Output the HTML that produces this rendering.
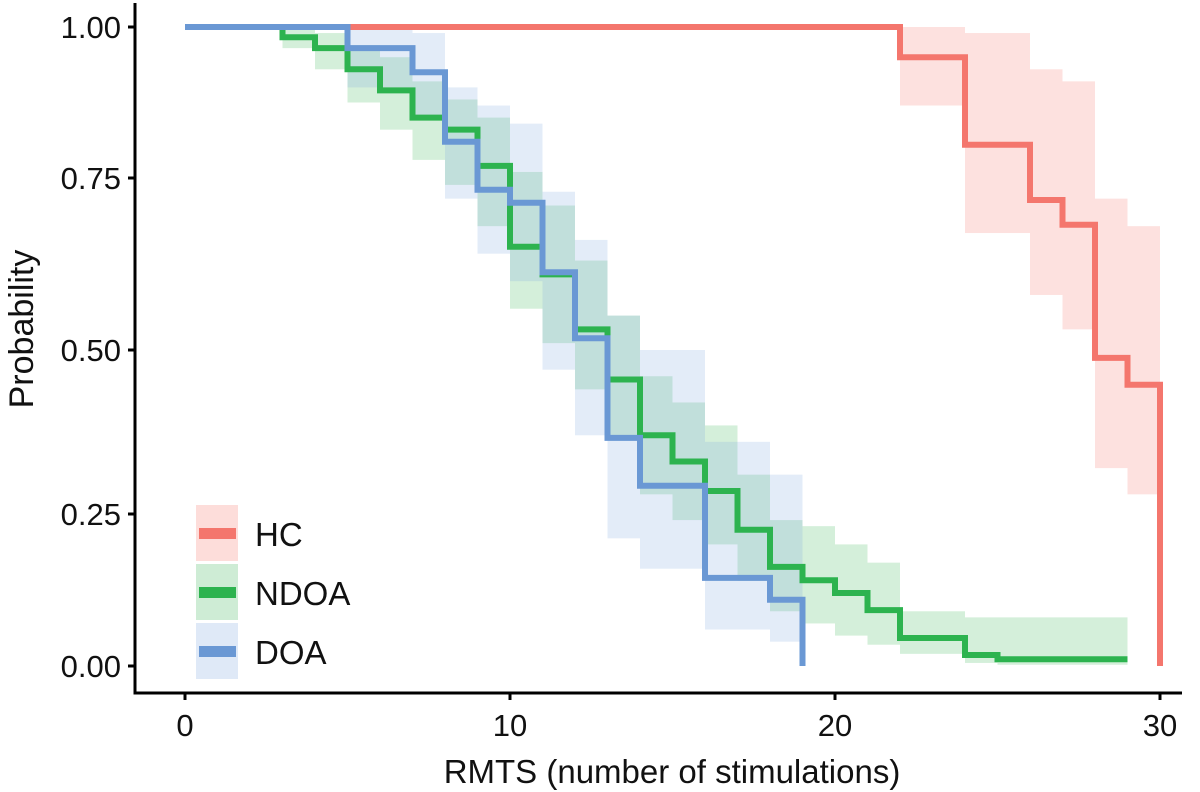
<!DOCTYPE html>
<html><head><meta charset="utf-8"><style>
html,body{margin:0;padding:0;background:#fff;}
svg{display:block;font-family:"Liberation Sans",Arial,sans-serif;}
</style></head><body>
<svg id="chart" width="1200" height="792">
<g id="bands"></g>
<g id="lines"></g>
<g id="axes"></g>
<g id="legend"></g>
</svg>
<script>
const xTicks=[0,10,20,30];
const yTicks=[0,0.25,0.5,0.75,1];
const yTickLabels=["0.00","0.25","0.50","0.75","1.00"];
const seriesNames=["HC","NDOA","DOA"];
const hcT=[0,22,24,26,27,28,29,30];
const hcS=[1,0.95,0.805,0.718,0.682,0.488,0.447,0];
const hcL=[1,0.87,0.67,0.58,0.53,0.32,0.28];
const hcU=[1,1.0,0.99,0.93,0.91,0.72,0.68];
const ndT=[0,3,4,5,6,7,8,9,10,11,12,13,14,15,16,17,18,19,20,21,22,24,25,29];
const ndS=[1,0.983,0.965,0.93,0.895,0.85,0.83,0.77,0.65,0.61,0.53,0.455,0.37,0.33,0.285,0.224,0.163,0.141,0.12,0.092,0.046,0.018,0.011,0.011];
const ndL=[1,0.965,0.93,0.875,0.83,0.78,0.74,0.68,0.56,0.51,0.44,0.37,0.28,0.24,0.2,0.14,0.09,0.07,0.05,0.035,0.02,0.005,0.002];
const ndU=[1,1.0,0.99,0.97,0.95,0.91,0.88,0.85,0.76,0.71,0.63,0.55,0.46,0.42,0.385,0.31,0.24,0.23,0.2,0.17,0.09,0.08,0.08];
const doT=[0,5,7,8,9,10,11,12,13,14,16,18,19];
const doS=[1,0.965,0.925,0.81,0.733,0.714,0.613,0.517,0.366,0.293,0.145,0.109,0];
const doL=[1,0.9,0.85,0.72,0.64,0.6,0.47,0.37,0.21,0.16,0.06,0.04];
const doU=[1,1.0,0.99,0.9,0.87,0.84,0.73,0.66,0.55,0.5,0.36,0.31];

const NS="http://www.w3.org/2000/svg";
function xs(v){return 185+v*32.5;}
const yPx=[666,514,350,178,27];
function ys(v){
  if(v<=0)return yPx[0]; if(v>=1)return yPx[4];
  const i=Math.min(3,Math.floor(v/0.25)); const f=(v-i*0.25)/0.25;
  return yPx[i]+(yPx[i+1]-yPx[i])*f;
}
function mk(tag,attrs,parent){const e=document.createElementNS(NS,tag);for(const k in attrs)e.setAttribute(k,attrs[k]);parent.appendChild(e);return e;}
const bands=document.getElementById('bands'),lines=document.getElementById('lines'),axes=document.getElementById('axes'),legend=document.getElementById('legend');
const colors=["#F4766D","#2DB34F","#6A98D4"];
const fills=["#F8766D","#3CB456","#7FA8DE"];
const series=[[hcT,hcS,hcL,hcU],[ndT,ndS,ndL,ndU],[doT,doS,doL,doU]];
series.forEach((s,k)=>{
  const [T,S,L,U]=s;
  for(let i=0;i<L.length;i++){
    const r=mk('rect',{x:xs(T[i]),y:ys(U[i]),width:xs(T[i+1])-xs(T[i]),height:ys(L[i])-ys(U[i]),fill:fills[k],'fill-opacity':0.22},bands);
    
    
  }
  let d='M'+xs(T[0])+','+ys(S[0]);
  for(let i=1;i<T.length;i++){d+=' H'+xs(T[i])+' V'+ys(S[i]);}
  const p=mk('path',{d:d,fill:'none',stroke:colors[k],'stroke-width':6,'stroke-linejoin':'miter'},lines);
  
  
});
mk('path',{d:'M135,3 V693 H1182',fill:'none',stroke:'#000','stroke-width':3},axes);
yTicks.forEach((v,i)=>{
  mk('line',{x1:128,x2:135,y1:ys(v),y2:ys(v),stroke:'#000','stroke-width':3},axes);
  const t=mk('text',{x:121,y:ys(v)+11,'text-anchor':'end','font-size':31,fill:'#111'},axes);
  t.textContent=yTickLabels[i];
  
  
});
xTicks.forEach(v=>{
  mk('line',{x1:xs(v),x2:xs(v),y1:693,y2:700,stroke:'#000','stroke-width':3},axes);
  const t=mk('text',{x:xs(v),y:736,'text-anchor':'middle','font-size':31,fill:'#111'},axes);
  t.textContent=v;
  
  
});
const xt=mk('text',{x:672,y:783,'text-anchor':'middle','font-size':33,fill:'#111'},axes);
xt.textContent='RMTS (number of stimulations)';


const yt=mk('text',{x:0,y:0,transform:'translate(33,329) rotate(-90)','text-anchor':'middle','font-size':34,fill:'#111'},axes);
yt.textContent='Probability';


seriesNames.forEach((n,k)=>{
  const y0=505+k*59;
  const g=mk('g',{},legend);
  
  
  mk('rect',{x:196,y:y0,width:42,height:56,fill:fills[k],'fill-opacity':0.25},g);
  mk('rect',{x:199,y:y0+23,width:37,height:11,fill:colors[k]},g);
  const t=mk('text',{x:255,y:y0+41,'font-size':33,fill:'#111'},g);
  t.textContent=n;
});
</script>
</body></html>
